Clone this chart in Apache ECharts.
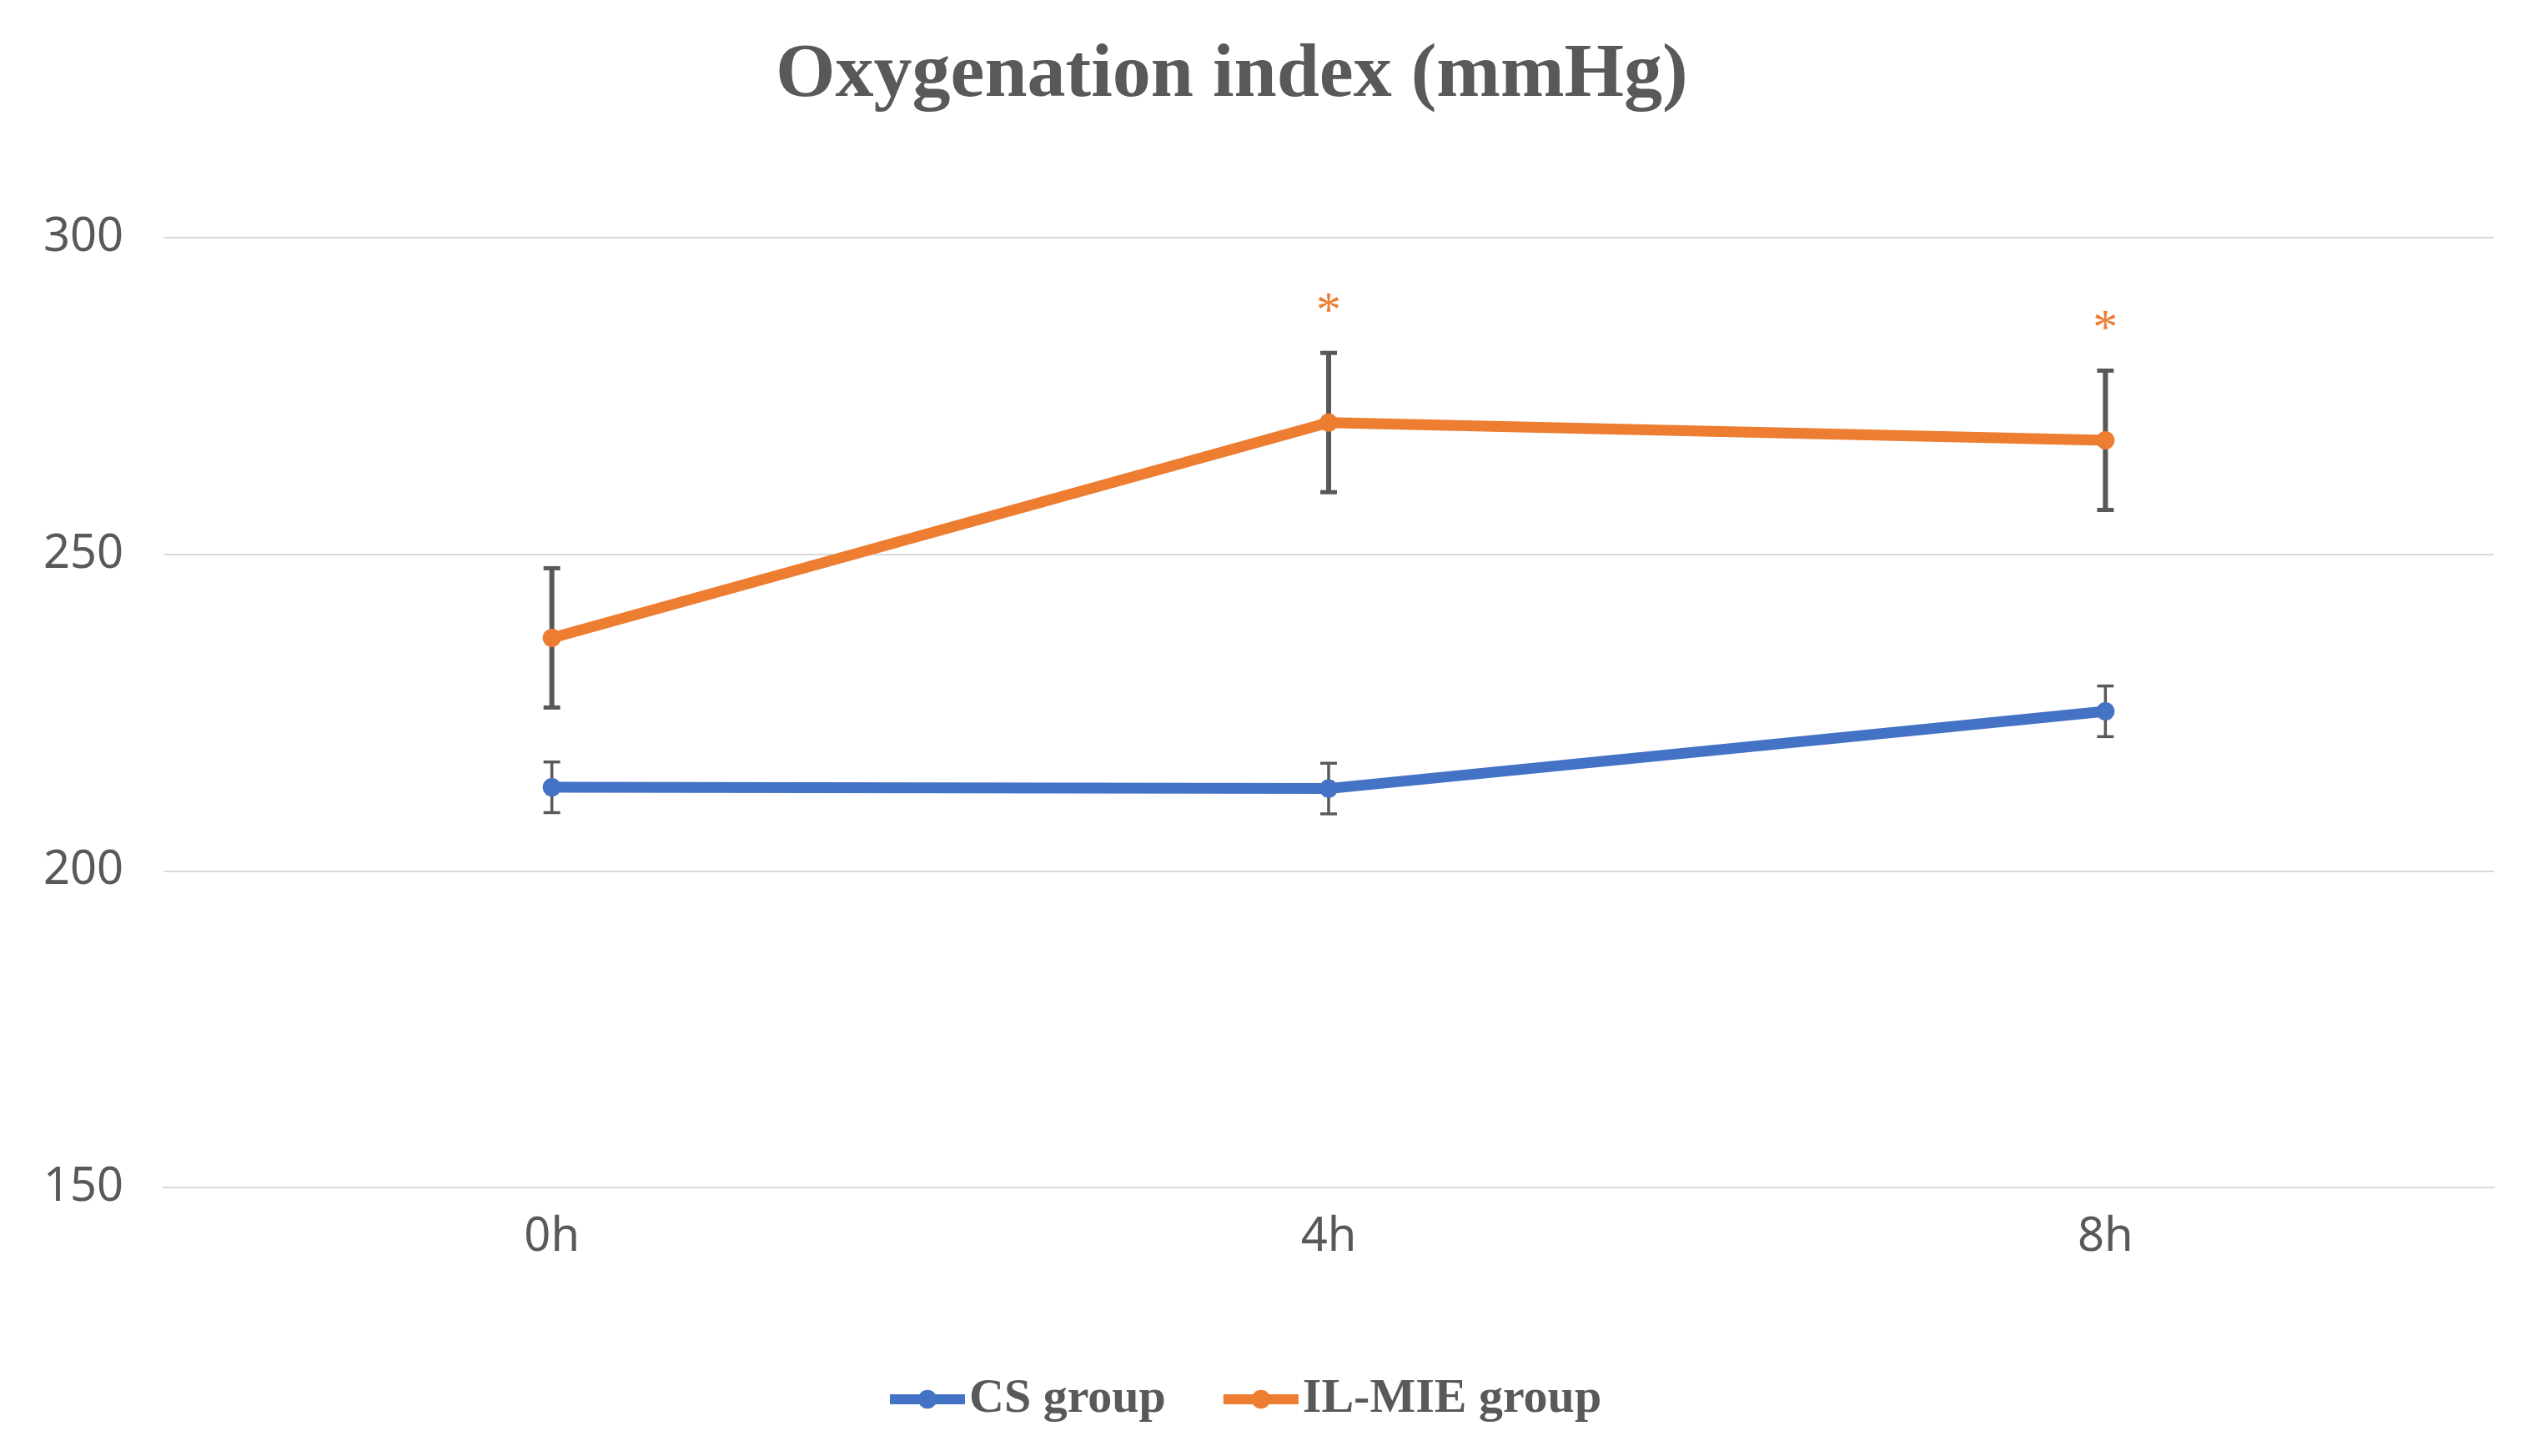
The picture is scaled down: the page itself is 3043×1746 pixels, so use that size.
<!DOCTYPE html>
<html>
<head>
<meta charset="utf-8">
<script src="https://cdn.jsdelivr.net/npm/echarts@6/dist/echarts.min.js"></script>
<style>
  html, body { margin: 0; padding: 0; background: #ffffff; }
  #chart { width: 3043px; height: 1746px; }
</style>
</head>
<body>
<div id="chart"></div>
<script>
// ---- Data ----
const categories = ['0h', '4h', '8h'];
const csMean = [213.2, 213.0, 225.2];
const csSD = [4, 4, 4];
const ilMean = [236.8, 270.8, 268.0];
const ilSD = [11, 11, 11];
const ilSignificance = ['', '*', '*'];
const yTicks = [150, 200, 250, 300];

const textGray = '#595959';
const blue = '#4472C4';
const orange = '#ED7D31';

function errorBarData(mean, sd, marks) {
  return mean.map((m, i) => [i, m - sd[i], m + sd[i], marks ? marks[i] : '']);
}

function makeErrorRenderer(stemWidth, capWidth) {
  return function (params, api) {
    const x = api.value(0);
    const lo = api.coord([x, api.value(1)]);
    const hi = api.coord([x, api.value(2)]);
    const half = 10;
    const children = [
      { type: 'line', shape: { x1: lo[0], y1: lo[1], x2: hi[0], y2: hi[1] },
        style: { stroke: '#595959', lineWidth: stemWidth } },
      { type: 'line', shape: { x1: hi[0] - half, y1: hi[1], x2: hi[0] + half, y2: hi[1] },
        style: { stroke: '#595959', lineWidth: capWidth } },
      { type: 'line', shape: { x1: lo[0] - half, y1: lo[1], x2: lo[0] + half, y2: lo[1] },
        style: { stroke: '#595959', lineWidth: capWidth } }
    ];
    const mark = api.value(3);
    if (mark) {
      children.push({
        type: 'text',
        style: {
          text: mark, x: hi[0], y: hi[1] - 48,
          fill: orange, font: 'normal 60px "Liberation Serif"',
          align: 'center', verticalAlign: 'middle'
        }
      });
    }
    return { type: 'group', children: children };
  };
}

const chart = echarts.init(document.getElementById('chart'));
chart.setOption({
  animation: false,
  backgroundColor: '#ffffff',
  title: {
    text: 'Oxygenation index (mmHg)',
    left: 925,
    top: 40,
    textStyle: {
      fontFamily: 'Liberation Serif',
      fontWeight: 'bold',
      fontSize: 92,
      color: textGray
    }
  },
  legend: {
    data: ['CS group', 'IL-MIE group'],
    left: 1056,
    top: 1644,
    itemWidth: 90,
    itemHeight: 28,
    itemGap: 63,
    lineStyle: { width: 12, cap: 'butt' },
    textStyle: {
      fontFamily: 'Liberation Serif',
      fontWeight: 'bold',
      fontSize: 58,
      color: textGray
    }
  },
  grid: { left: 196, right: 53, top: 285, bottom: 322 },
  xAxis: {
    type: 'category',
    data: categories,
    boundaryGap: true,
    axisLine: { show: true, lineStyle: { color: '#d9d9d9', width: 2 } },
    axisTick: { show: false },
    axisLabel: {
      margin: 32,
      fontFamily: 'Noto Sans',
      fontSize: 56,
      color: textGray
    }
  },
  yAxis: {
    type: 'value',
    min: yTicks[0],
    max: yTicks[yTicks.length - 1],
    interval: 50,
    axisLine: { show: false },
    axisTick: { show: false },
    splitLine: { lineStyle: { color: '#d9d9d9', width: 2 } },
    axisLabel: {
      margin: 48,
      fontFamily: 'Noto Sans',
      fontSize: 56,
      color: textGray
    }
  },
  series: [
    {
      name: 'CS group SD',
      type: 'custom',
      z: 1,
      renderItem: makeErrorRenderer(3.5, 3.5),
      data: errorBarData(csMean, csSD),
      encode: { x: 0, y: [1, 2] }
    },
    {
      name: 'IL-MIE group SD',
      type: 'custom',
      z: 1,
      renderItem: makeErrorRenderer(6, 5),
      data: errorBarData(ilMean, ilSD, ilSignificance),
      encode: { x: 0, y: [1, 2] }
    },
    {
      name: 'CS group',
      type: 'line',
      z: 3,
      data: csMean,
      symbol: 'circle',
      symbolSize: 22,
      itemStyle: { color: blue },
      lineStyle: { color: blue, width: 13 }
    },
    {
      name: 'IL-MIE group',
      type: 'line',
      z: 3,
      data: ilMean,
      symbol: 'circle',
      symbolSize: 22,
      itemStyle: { color: orange },
      lineStyle: { color: orange, width: 13 }
    }
  ]
});
</script>
</body>
</html>
